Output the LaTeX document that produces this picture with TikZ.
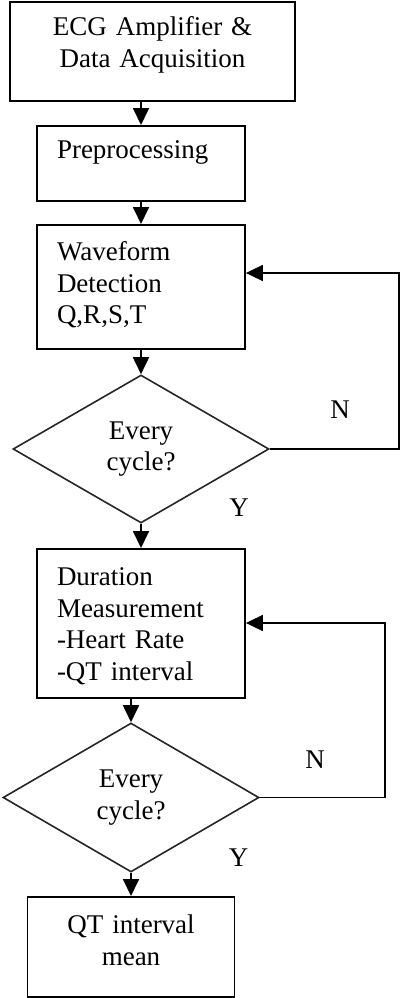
\documentclass[tikz,border=0pt]{standalone}
\usepackage{fontspec}
\setmainfont{Liberation Serif}
\usepackage{tikz}
\usetikzlibrary{arrows.meta,positioning,shapes.geometric}
\tikzset{
  >={Triangle[length=17pt,width=16pt]},
  box/.style={draw=black,line width=1.8pt,inner xsep=20pt,inner ysep=0pt,anchor=north,align=left,font=\fontsize{27}{31.5}\selectfont},
  cbox/.style={box,inner xsep=10pt,align=center},
  dec/.style={diamond,draw=black!85,line width=1.6pt,inner sep=0pt,minimum width=256pt,minimum height=148pt,align=center,font=\fontsize{27}{31.5}\selectfont},
  lab/.style={font=\fontsize{27}{31.5}\selectfont},
  arr/.style={->,draw=black,line width=1.8pt},
}

\begin{document}
\begin{tikzpicture}[x=1pt,y=-1pt]
\path[use as bounding box,fill=white] (0,0) rectangle (400,998);
\node[cbox,text width=265pt,text height=34pt,text depth=65pt] (ecg) at (152.5,1) {ECG Amplifier \&\\Data Acquisition};
\node[box,text width=168pt,text height=33pt,text depth=42pt] (prep) at (141,125) {Preprocessing};
\node[box,text width=168pt,text height=36pt,text depth=88pt] (wave) at (141,224) {Waveform\\Detection\\Q,R,S,T};
\node[dec] (d1) at (141,449) {Every\\cycle?};
\node[box,text width=168pt,text height=37pt,text depth=112pt] (dur) at (141,548) {Duration\\Measurement\\-Heart Rate\\-QT interval};
\node[dec,minimum height=149pt] (d2) at (131,797.5) {Every\\cycle?};
\node[cbox,text width=187pt,text height=37pt,text depth=63pt] (qt) at (131,896) {QT interval\\mean};
\node[lab] (n1) at (340,410) {N};
\node[lab] (y1) at (239,508) {Y};
\node[lab] (n2) at (315,760) {N};
\node[lab] (y2) at (238.5,857.5) {Y};
\coordinate (r1) at (399,273);
\coordinate (r2) at (385,623);
\draw[arr] (prep.north |- ecg.south) -- (prep.north);
\draw[arr] (prep) -- (wave);
\draw[arr] (wave) -- (d1);
\draw[arr] (d1) -- (dur);
\draw[arr] (d2.north |- dur.south) -- (d2.north);
\draw[arr] (d2) -- (qt);
\draw[arr] (d1.east) -| (r1) -- (wave.east |- r1);
\draw[arr] (d2.east) -| (r2) -- (dur.east |- r2);
\end{tikzpicture}
\end{document}
